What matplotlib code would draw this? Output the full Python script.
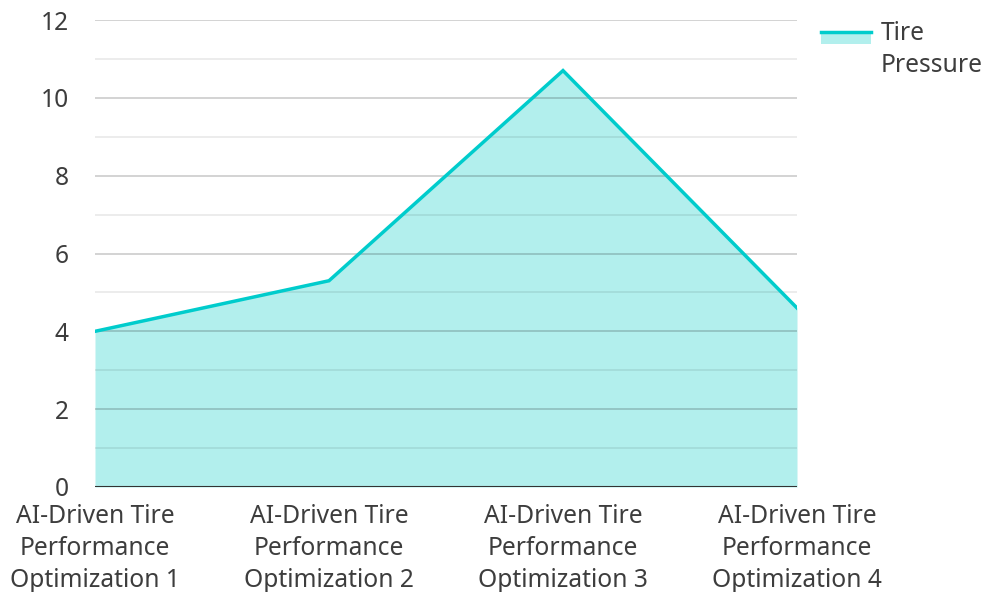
import matplotlib.pyplot as plt
from matplotlib.patches import Rectangle
from matplotlib.lines import Line2D

plt.rcParams['font.family'] = ['Noto Sans', 'DejaVu Sans']

categories = ['AI-Driven Tire\nPerformance\nOptimization 1',
              'AI-Driven Tire\nPerformance\nOptimization 2',
              'AI-Driven Tire\nPerformance\nOptimization 3',
              'AI-Driven Tire\nPerformance\nOptimization 4']
tire_pressure = [4.0, 5.3, 10.7, 4.6]
series_name = 'Tire\nPressure'

line_color = '#00cccc'
fill_color = '#b2efed'
text_color = '#3d3d3d'
fsize = 17.7

W, H = 983, 592
fig = plt.figure(figsize=(W / 100, H / 100), dpi=100)
ax = fig.add_axes([95 / W, 1 - 487 / H, (797 - 95) / W, (487 - 20) / H])

x = list(range(len(categories)))
ax.fill_between(x, tire_pressure, 0, color=fill_color, zorder=1, lw=0)
ax.plot(x, tire_pressure, color=line_color, lw=2.5, zorder=3, solid_joinstyle='miter')

ax.set_xlim(0, len(categories) - 1)
ax.set_ylim(0, 12)
ax.set_yticks(range(0, 13, 2))
ax.set_yticks(range(1, 13, 2), minor=True)
ax.set_xticks(x)
ax.set_xticklabels(categories)

# grid sits on top of the fill
for v in range(0, 13, 2):
    ax.axhline(v, color='#000000', alpha=0.2, lw=1.2, zorder=2)
for v in range(1, 13, 2):
    ax.axhline(v, color='#000000', alpha=0.09, lw=1.2, zorder=2)
ax.axhline(0, color='#333333', lw=1.5, zorder=4)

for s in ax.spines.values():
    s.set_visible(False)
ax.tick_params(axis='both', which='both', length=0, labelsize=fsize, colors=text_color)
ax.tick_params(axis='y', pad=19)
ax.tick_params(axis='x', pad=12.5)
for lab in ax.get_xticklabels():
    lab.set_linespacing(1.35)

# legend
ft = fig.transFigure
fig.add_artist(Rectangle((821 / W, 1 - 44 / H), 50 / W, 13 / H,
                         facecolor=fill_color, lw=0, transform=ft))
fig.add_artist(Line2D([821 / W, 871 / W], [1 - 32 / H, 1 - 32 / H],
                      color=line_color, lw=2.5, transform=ft))
fig.text(881 / W, 1 - 21 / H, series_name, fontsize=fsize, color=text_color,
         va='top', ha='left', linespacing=1.38)

fig.savefig('out.png', dpi=100)
